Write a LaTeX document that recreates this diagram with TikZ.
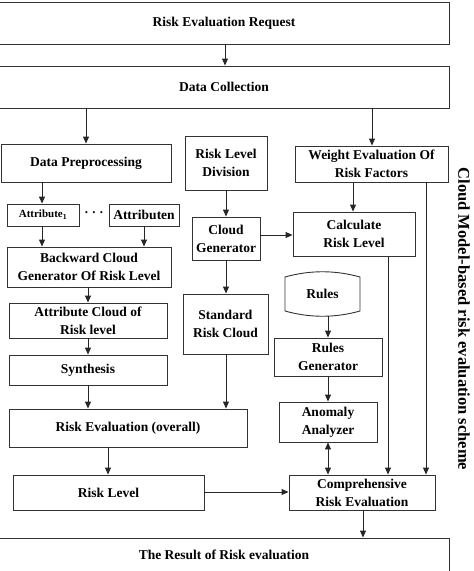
\documentclass[tikz,border=0pt]{standalone}
\usepackage{fontspec}
\setmainfont{Liberation Serif}
\usetikzlibrary{arrows.meta,calc}
\tikzset{
  lbox/.style={draw=black!80, line width=0.9pt, align=center, inner sep=0pt,
    font=\bfseries\fontsize{13.5}{18}\selectfont},
  arr/.style={draw=black!85, line width=0.9pt, -{Triangle[length=7pt,width=6pt]}},
  darr/.style={draw=black!85, line width=0.9pt, {Triangle[length=7pt,width=6pt]}-{Triangle[length=7pt,width=6pt]}},
}
\newcommand{\mkbox}[7][]{%
  \node[lbox,#1, minimum width={(#5-#3)*1pt}, minimum height={(#6-#4)*1pt}] (#2) at ({(#3+#5)/2},{(#4+#6)/2}) {#7};}
\begin{document}
\begin{tikzpicture}[x=1pt,y=-1pt]
\useasboundingbox (0,0) rectangle (474,571);
\mkbox{req}{-1}{2}{449}{44}{Risk Evaluation Request}
\mkbox{dc}{-1}{66}{449}{108}{Data Collection}
\mkbox{dp}{1}{144}{171}{182}{Data Preprocessing}
\mkbox[font=\bfseries\fontsize{11}{14}\selectfont]{a1}{7}{204}{79}{226}{Attribute\textsubscript{1}}
\mkbox{an}{109}{204}{179}{226}{Attributen}
\node[font=\bfseries\fontsize{13}{16}\selectfont] (dots) at (94,213) {.\,\,.\,\,.};
\mkbox{bw}{7}{247}{171}{287}{Backward Cloud\\Generator Of Risk Level}
\mkbox{ac}{9}{303}{167}{338}{Attribute Cloud of\\Risk level}
\mkbox{syn}{9}{355}{167}{385}{Synthesis}
\mkbox{reo}{9}{409}{247}{447}{Risk Evaluation (overall)}
\mkbox{rl}{13}{475}{204}{510}{Risk Level}
\mkbox{rld}{185}{136}{267}{190}{Risk Level\\Division}
\mkbox{cg}{192}{217}{260}{260}{Cloud\\Generator}
\mkbox{src}{183}{294}{268}{354}{Standard\\Risk Cloud}
\mkbox{we}{295}{146}{448}{182}{Weight Evaluation Of\\Risk Factors}
\mkbox{crl}{293}{212}{415}{256}{Calculate\\Risk Level}
\mkbox{rg}{274}{338}{382}{376}{Rules\\Generator}
\mkbox{aa}{279}{402}{377}{442}{Anomaly\\Analyzer}
\mkbox{cre}{289}{475}{435}{510}{Comprehensive\\Risk Evaluation}
\mkbox{res}{-1}{538}{449}{576}{}
\node[font=\bfseries\fontsize{13.5}{18}\selectfont] (restxt) at (224,555) {The Result of Risk evaluation};
% Rules drum
\draw[draw=black!80, line width=0.9pt] (285,277) .. controls (310,270) and (335,270) .. (360,277)
  -- (360,311) .. controls (335,318) and (310,318) .. (285,311) -- cycle;
\coordinate (rulesbot) at (328,315.5);
\node[font=\bfseries\fontsize{13.5}{18}\selectfont] (rules) at (322.5,294) {Rules};
% side title
\node[rotate=-90, font=\bfseries\fontsize{16.5}{20}\selectfont] (title) at (464,319) {Cloud Model-based risk evaluation scheme};
% arrows
\draw[arr] (req.south -| 225,0) -- (dc.north -| 225,0);
\draw[arr] (dc.south -| 86,0) -- (dp.north -| 86,0);
\draw[arr] (dc.south -| 372,0) -- (we.north -| 372,0);
\draw[arr] (dp.south -| 42,0) -- (a1.north -| 42,0);
\draw[arr] (a1.south -| 42,0) -- (bw.north -| 42,0);
\draw[arr] (an.south -| 144,0) -- (bw.north -| 144,0);
\draw[arr] (bw.south -| 88,0) -- (ac.north -| 88,0);
\draw[arr] (ac.south -| 88,0) -- (syn.north -| 88,0);
\draw[arr] (syn.south -| 88,0) -- (reo.north -| 88,0);
\draw[arr] (rld.south -| 226,0) -- (cg.north -| 226,0);
\draw[arr] (cg.south -| 226,0) -- (src.north -| 226,0);
\draw[arr] (src.south -| 226,0) -- (reo.north -| 226,0);
\draw[arr] (cg.east |- 0,235) -- (crl.west |- 0,235);
\draw[arr] (we.south -| 353,0) -- (crl.north -| 353,0);
\draw[arr] (crl.south -| 388,0) -- (cre.north -| 388,0);
\draw[arr] (we.south -| 426,0) -- (cre.north -| 426,0);
\draw[arr] (rulesbot) -- (rg.north -| 328,0);
\draw[arr] (rg.south -| 328,0) -- (aa.north -| 328,0);
\draw[darr] (aa.south -| 328,0) -- (cre.north -| 328,0);
\draw[arr] (reo.south -| 108,0) -- (rl.north -| 108,0);
\draw[arr] (rl.east |- 0,492) -- (cre.west |- 0,492);
\draw[arr] (cre.south -| 363,0) -- (res.north -| 363,0);
\end{tikzpicture}
\end{document}
